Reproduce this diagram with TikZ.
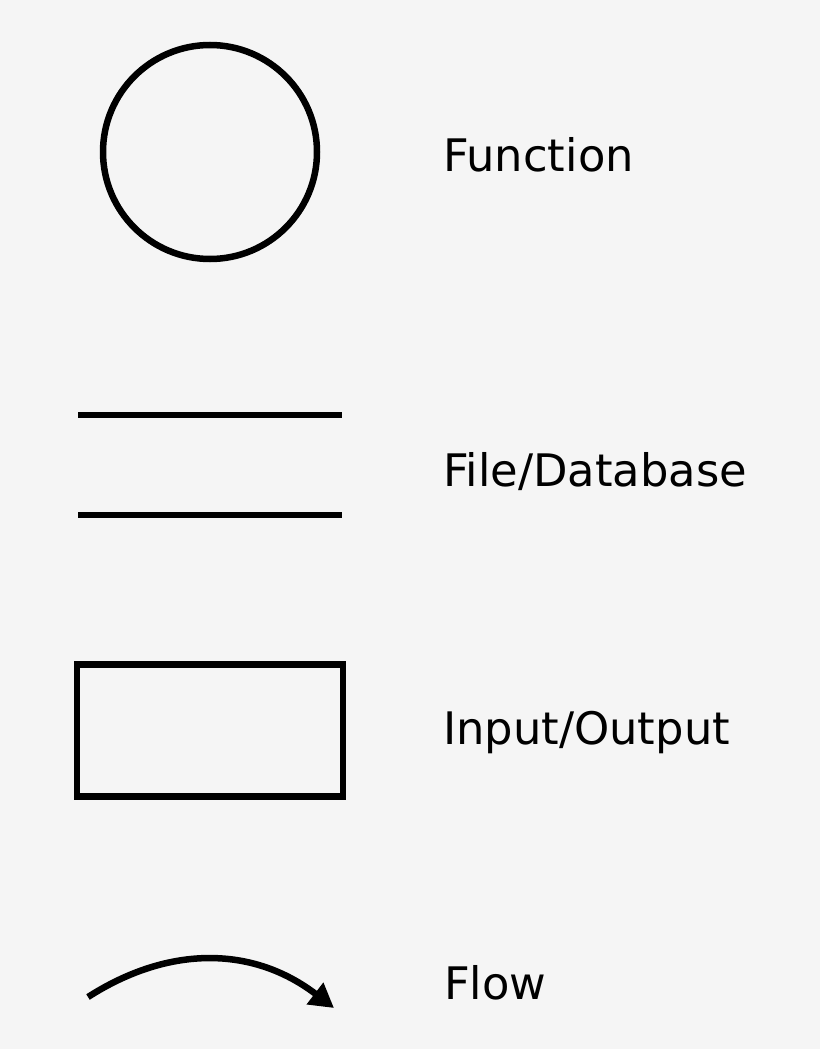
\documentclass[tikz,border=0pt]{standalone}
\usepackage{fontspec}
\setmainfont{DejaVu Sans}
\usetikzlibrary{arrows.meta}
\definecolor{bg}{HTML}{F5F5F5}
\begin{document}
\begin{tikzpicture}[x=1pt,y=-1pt,
  sym/.style={line width=6.5pt,draw=black},
  lbl/.style={anchor=base west,inner sep=0pt,font=\fontsize{44.8}{50}\selectfont}]
\fill[bg] (0,0) rectangle (820,1049);
\useasboundingbox (0,0) rectangle (820,1049);
% Function
\node[sym,circle,minimum size=214pt,inner sep=0pt] (func) at (210,152) {};
\node[lbl] (funcl) at (443,171) {Function};
% File/Database
\coordinate (f1a) at (78,415); \coordinate (f1b) at (342,415);
\coordinate (f2a) at (78,515); \coordinate (f2b) at (342,515);
\draw[sym] (f1a) -- (f1b);
\draw[sym] (f2a) -- (f2b);
\node[lbl] (filel) at (443,486) {File/Database};
% Input/Output
\node[sym,rectangle,minimum width=266pt,minimum height=132pt,inner sep=0pt] (io) at (210,730.5) {};
\node[lbl] (iol) at (443,744) {Input/Output};
% Flow
\coordinate (fs) at (88,997);
\coordinate (fe) at (334,1008);
\draw[line width=6.5pt,-{Triangle[length=24pt,width=26pt]}] (fs) .. controls (169,945) and (253,946) .. (fe);
\node[lbl] (flowl) at (444,999) {Flow};
\end{tikzpicture}
\end{document}
